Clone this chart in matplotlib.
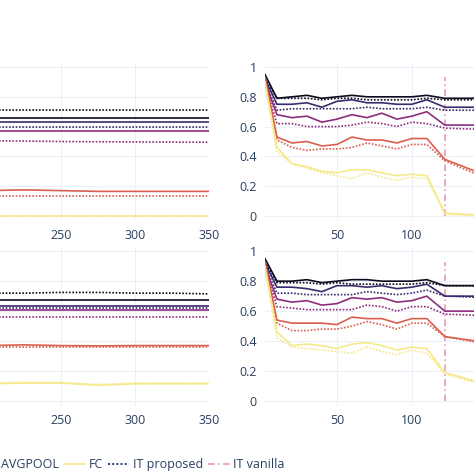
import matplotlib
matplotlib.use("Agg")
import matplotlib.pyplot as plt
from matplotlib.lines import Line2D

plt.rcParams["font.family"] = ["Open Sans", "DejaVu Sans"]

COLORS = ["#0d0a1e", "#3b2a6b", "#8c2d7e", "#d9604f", "#f5e98a"]
NAMES = ["LAYER1", "LAYER2", "LAYER3", "AVGPOOL", "FC"]

# left panels: long-run region (x 200..350)
LX = [200, 225, 250, 275, 300, 325, 350]
TL_SOLID = [
    [0.66] * 7,
    [0.63] * 7,
    [0.57] * 7,
    [0.17, 0.175, 0.17, 0.165, 0.165, 0.165, 0.165],
    [0.0] * 7,
]
TL_DOT = [
    [0.71] * 7,
    [0.60] * 7,
    [0.505, 0.503, 0.50, 0.498, 0.497, 0.496, 0.495],
    [0.135] * 7,
    [0.0] * 7,
]
BL_SOLID = [
    [0.673] * 7,
    [0.633] * 7,
    [0.61] * 7,
    [0.37, 0.375, 0.37, 0.368, 0.37, 0.37, 0.37],
    [0.115, 0.12, 0.12, 0.105, 0.115, 0.115, 0.115],
]
BL_DOT = [
    [0.72, 0.72, 0.725, 0.725, 0.72, 0.72, 0.715],
    [0.62] * 7,
    [0.56] * 7,
    [0.36] * 7,
    [0.12, 0.125, 0.125, 0.11, 0.12, 0.12, 0.12],
]

# right panels: first epochs
RX = [2, 10, 20, 30, 40, 50, 60, 70, 80, 90, 100, 110, 122, 150]
TR_SOLID = [
    [0.95, 0.79, 0.80, 0.81, 0.79, 0.80, 0.81, 0.80, 0.80, 0.80, 0.80, 0.81, 0.79, 0.79],
    [0.92, 0.75, 0.75, 0.76, 0.73, 0.77, 0.78, 0.76, 0.76, 0.75, 0.75, 0.78, 0.73, 0.73],
    [0.90, 0.68, 0.66, 0.67, 0.63, 0.65, 0.68, 0.66, 0.69, 0.65, 0.67, 0.70, 0.61, 0.61],
    [0.93, 0.53, 0.49, 0.50, 0.47, 0.48, 0.53, 0.51, 0.51, 0.49, 0.52, 0.52, 0.38, 0.27],
    [0.90, 0.46, 0.35, 0.33, 0.30, 0.29, 0.31, 0.31, 0.29, 0.27, 0.28, 0.27, 0.02, 0.0],
]
TR_DOT = [
    [0.92, 0.79, 0.79, 0.79, 0.78, 0.79, 0.79, 0.78, 0.78, 0.78, 0.78, 0.79, 0.78, 0.78],
    [0.90, 0.71, 0.72, 0.72, 0.72, 0.72, 0.72, 0.73, 0.72, 0.72, 0.72, 0.73, 0.71, 0.71],
    [0.89, 0.62, 0.62, 0.60, 0.60, 0.60, 0.61, 0.63, 0.62, 0.60, 0.63, 0.62, 0.59, 0.58],
    [0.92, 0.51, 0.46, 0.44, 0.45, 0.45, 0.46, 0.49, 0.47, 0.45, 0.48, 0.48, 0.37, 0.25],
    [0.88, 0.43, 0.35, 0.32, 0.29, 0.27, 0.25, 0.29, 0.26, 0.24, 0.26, 0.25, 0.01, 0.0],
]
BR_SOLID = [
    [0.95, 0.80, 0.80, 0.81, 0.79, 0.80, 0.81, 0.81, 0.80, 0.80, 0.80, 0.81, 0.77, 0.77],
    [0.92, 0.76, 0.76, 0.75, 0.73, 0.77, 0.77, 0.76, 0.77, 0.75, 0.76, 0.78, 0.70, 0.70],
    [0.90, 0.68, 0.66, 0.67, 0.64, 0.65, 0.69, 0.68, 0.69, 0.66, 0.67, 0.70, 0.60, 0.60],
    [0.93, 0.54, 0.52, 0.52, 0.52, 0.51, 0.56, 0.55, 0.55, 0.52, 0.55, 0.55, 0.43, 0.39],
    [0.90, 0.46, 0.37, 0.38, 0.37, 0.35, 0.38, 0.39, 0.37, 0.34, 0.36, 0.35, 0.19, 0.11],
]
BR_DOT = [
    [0.93, 0.79, 0.79, 0.79, 0.78, 0.79, 0.78, 0.78, 0.78, 0.78, 0.78, 0.79, 0.77, 0.77],
    [0.90, 0.72, 0.72, 0.71, 0.71, 0.71, 0.71, 0.73, 0.72, 0.71, 0.72, 0.74, 0.70, 0.69],
    [0.89, 0.63, 0.62, 0.61, 0.61, 0.61, 0.61, 0.64, 0.63, 0.60, 0.63, 0.63, 0.58, 0.57],
    [0.92, 0.52, 0.47, 0.47, 0.48, 0.48, 0.50, 0.53, 0.51, 0.48, 0.52, 0.52, 0.43, 0.38],
    [0.88, 0.42, 0.36, 0.35, 0.34, 0.33, 0.32, 0.36, 0.33, 0.31, 0.34, 0.32, 0.18, 0.10],
]
VANILLA_X = 122
VANILLA_TOP = 0.93

TICK_COLOR = "#2a3f5f"
GRID = "#ebf0f8"


def style(ax, xlim, xticks, ylabels=True):
    ax.set_xlim(*xlim)
    ax.set_ylim(-0.03, 1.03)
    ax.set_xticks(xticks)
    ax.set_yticks([0, 0.2, 0.4, 0.6, 0.8, 1])
    if ylabels:
        ax.set_yticklabels(["0", "0.2", "0.4", "0.6", "0.8", "1"])
    else:
        ax.set_yticklabels([])
    ax.grid(color=GRID, linewidth=0.8, zorder=0)
    for s in ax.spines.values():
        s.set_visible(False)
    ax.tick_params(length=0, labelsize=9, labelcolor=TICK_COLOR, pad=6)


def draw(ax, x, solid, dot, vanilla=False):
    for c, s, d in zip(COLORS, solid, dot):
        ax.plot(x, s, color=c, lw=1.2, zorder=3)
        ax.plot(x, d, color=c, lw=1.2, ls=(0, (1, 1)), zorder=3)
    if vanilla:
        ax.plot([VANILLA_X, VANILLA_X], [0, VANILLA_TOP], color="#e89ab4",
                lw=1.2, ls=(0, (4, 2, 1, 2)), zorder=2)


fig = plt.figure(figsize=(4.74, 4.74), dpi=100)
ax_tl = fig.add_axes([-0.652, 0.535, 1.093, 0.333])
ax_bl = fig.add_axes([-0.652, 0.1445, 1.093, 0.335])
ax_tr = fig.add_axes([0.559, 0.535, 0.468, 0.333])
ax_br = fig.add_axes([0.559, 0.1445, 0.468, 0.335])

for ax, x, s, d, lim, ticks, v in (
    (ax_tl, LX, TL_SOLID, TL_DOT, (0, 350), [250, 300, 350], False),
    (ax_bl, LX, BL_SOLID, BL_DOT, (0, 350), [250, 300, 350], False),
    (ax_tr, RX, TR_SOLID, TR_DOT, (2, 150), [50, 100], True),
    (ax_br, RX, BR_SOLID, BR_DOT, (2, 150), [50, 100], True),
):
    draw(ax, x, s, d, v)
    style(ax, lim, ticks, ylabels=v)

handles = [Line2D([], [], color=COLORS[3], lw=1.2),
           Line2D([], [], color=COLORS[4], lw=1.2),
           Line2D([], [], color="#3b4a8a", lw=1.5, ls=(0, (1, 1))),
           Line2D([], [], color="#e89ab4", lw=1.2, ls=(0, (4, 2, 1, 2)))]
fig.legend(handles, ["AVGPOOL", "FC", "IT proposed", "IT vanilla"],
           loc="center left", bbox_to_anchor=(-0.075, 0.02), ncol=4, frameon=False,
           fontsize=9, handlelength=1.7, handletextpad=0.3, columnspacing=0.4,
           labelcolor="#2a3f5f")

fig.savefig("out.png", dpi=100)
